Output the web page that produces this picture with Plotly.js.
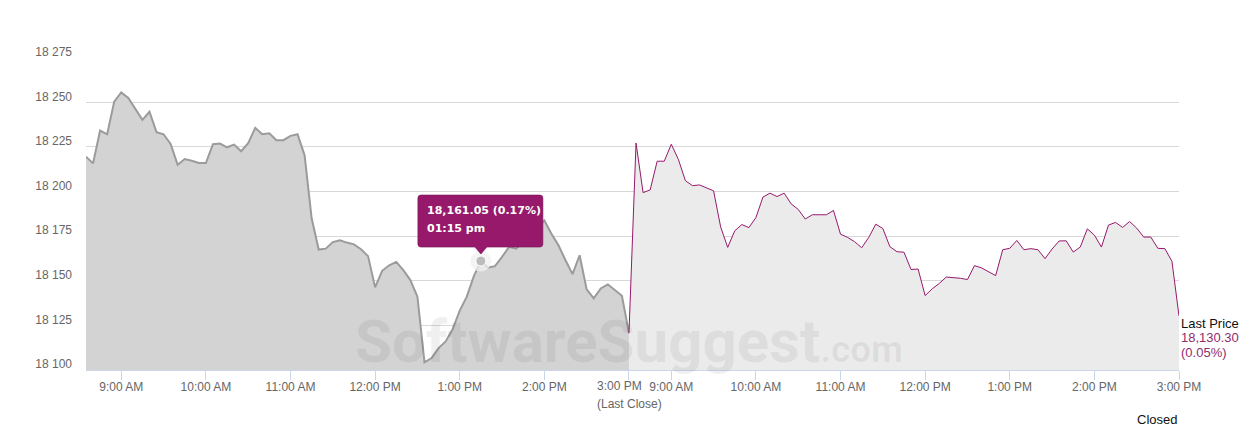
<!DOCTYPE html>
<html>
<head>
<meta charset="utf-8">
<script src="https://cdn.plot.ly/plotly-3.0.1.min.js"></script>
<style>
  html, body { margin: 0; padding: 0; background: #fff; }
  #chart { width: 1253px; height: 429px; }
</style>
</head>
<body>
<div id="chart"></div>
<script>
// ---- Data ----
// Previous session (grey), 5-minute points from 08:35 to 15:00
const leftValues = [
  18219.5, 18215.8, 18234.2, 18232.1, 18250.4, 18255.5, 18252.4, 18246.2, 18240.2, 18244.7,
  18233.3, 18232.1, 18226.7, 18215.0, 18218.2, 18217.3, 18216.0, 18216.0, 18226.5, 18226.9,
  18224.8, 18226.3, 18222.6, 18227.1, 18235.7, 18232.1, 18232.7, 18228.8, 18228.8, 18231.2,
  18232.1, 18220.3, 18185.0, 18167.5, 18168.0, 18171.7, 18172.7, 18171.4, 18170.4, 18167.7,
  18163.8, 18146.3, 18155.6, 18158.7, 18160.6, 18156.0, 18150.4, 18141.1, 18104.3, 18106.7,
  18112.3, 18116.0, 18122.9, 18133.3, 18141.1, 18152.6, 18161.05, 18157.4, 18158.2, 18163.4,
  18169.0, 18168.0, 18172.0, 18176.0, 18180.0, 18183.8, 18176.4, 18169.9, 18161.5, 18153.7,
  18164.3, 18145.2, 18140.1, 18145.7, 18148.0, 18144.8, 18141.6, 18120.6
];
// Current session (purple), 5-minute points from 08:30 to 15:00
const rightValues = [
  18120.6, 18227.2, 18199.4, 18200.9, 18217.0, 18217.0, 18226.5, 18218.1, 18206.1, 18203.3,
  18203.7, 18202.0, 18200.4, 18180.2, 18168.7, 18178.0, 18181.5, 18179.8, 18185.4, 18196.9,
  18199.1, 18197.2, 18199.1, 18193.1, 18190.0, 18184.6, 18187.0, 18187.0, 18187.0, 18189.4,
  18176.1, 18174.3, 18171.9, 18168.5, 18174.3, 18181.7, 18179.3, 18169.1, 18166.3, 18166.0,
  18156.3, 18156.6, 18141.7, 18145.5, 18148.5, 18152.1, 18151.8, 18151.4, 18150.7, 18158.5,
  18157.2, 18155.1, 18152.9, 18167.4, 18168.2, 18172.6, 18167.4, 18168.0, 18167.4, 18162.4,
  18167.8, 18172.3, 18172.4, 18166.1, 18168.9, 18179.1, 18175.6, 18168.9, 18181.2, 18182.7,
  18179.9, 18183.2, 18179.5, 18174.5, 18174.5, 18168.2, 18168.0, 18160.9, 18130.3
];
const leftStartMin = 8 * 60 + 35;   // 08:35
const rightStartMin = 8 * 60 + 30;  // 08:30
const sessionEndMin = 15 * 60;      // 15:00
const stepMin = 5;

const tickHours = [9, 10, 11, 12, 13, 14, 15];
const tickLabels = ["9:00 AM", "10:00 AM", "11:00 AM", "12:00 PM", "1:00 PM", "2:00 PM", "3:00 PM"];

const yTicks = [18100, 18125, 18150, 18175, 18200, 18225, 18250, 18275];

const tooltipIndex = 56;
const tooltipLines = ["18,161.05 (0.17%)", "01:15 pm"];
const lastPriceLines = ["Last Price", "18,130.30", "(0.05%)"];
const lastCloseLabel = "(Last Close)";
const statusLabel = "Closed";

// ---- Build axis positions ----
const leftSpan = sessionEndMin - leftStartMin;
const leftX = leftValues.map((_, i) => i * stepMin);
const rightX = rightValues.map((_, j) => leftSpan + j * stepMin);
const leftTickX = tickHours.map(h => h * 60 - leftStartMin);
const rightTickX = tickHours.map(h => leftSpan + h * 60 - rightStartMin);

const tickvals = leftTickX.slice(0, -1).concat([leftSpan]).concat(rightTickX);
const ticktext = tickLabels.slice(0, -1).concat([""]).concat(tickLabels);

const PURPLE = "#96196c";
const xMax = rightX[rightX.length - 1];

const traces = [
  {
    x: leftX, y: leftValues, type: "scatter", mode: "lines",
    line: { color: "#9b9b9b", width: 2 },
    fill: "tozeroy", fillcolor: "#d3d3d3", hoverinfo: "skip"
  },
  {
    x: rightX, y: rightValues, type: "scatter", mode: "lines",
    line: { color: PURPLE, width: 1 },
    fill: "tozeroy", fillcolor: "#ebebeb", hoverinfo: "skip"
  },
  {
    x: [leftX[tooltipIndex]], y: [leftValues[tooltipIndex]], type: "scatter", mode: "markers",
    marker: { size: 21, color: "rgba(240,240,240,0.75)" }, hoverinfo: "skip"
  },
  {
    x: [leftX[tooltipIndex]], y: [leftValues[tooltipIndex]], type: "scatter", mode: "markers",
    marker: { size: 10, color: "#bcbcbc", line: { color: "#ffffff", width: 1 } }, hoverinfo: "skip"
  }
];

const tx = leftX[tooltipIndex], ty = leftValues[tooltipIndex];
const lx = rightX[rightX.length - 1], ly = rightValues[rightValues.length - 1];

const annotations = [
  // watermark
  {
    xref: "paper", yref: "paper", x: 0.497, y: 0, yshift: 29, xanchor: "center", yanchor: "middle",
    showarrow: false,
    text: "SoftwareSuggest<span style=\"font-size:37px\">.com</span>",
    font: { family: "Roboto", size: 60, color: "rgba(0,0,0,0.06)", weight: 700 }
  },
  // tooltip text
  {
    x: tx, y: ty, xanchor: "left", yanchor: "middle", xshift: -56, yshift: 51, showarrow: false,
    text: "<b>" + tooltipLines[0] + "</b>",
    font: { family: "DejaVu Sans", size: 11, color: "#ffffff" }
  },
  {
    x: tx, y: ty, xanchor: "left", yanchor: "middle", xshift: -56, yshift: 33, showarrow: false,
    text: "<b>" + tooltipLines[1] + "</b>",
    font: { family: "DejaVu Sans", size: 11, color: "#ffffff" }
  },
  // last price labels
  {
    x: lx, y: ly, xanchor: "left", yanchor: "middle", xshift: 0, yshift: -8, showarrow: false,
    text: lastPriceLines[0], font: { family: "Liberation Sans", size: 13, color: "#111111" }
  },
  {
    x: lx, y: ly, xanchor: "left", yanchor: "middle", xshift: 0, yshift: -22, showarrow: false,
    text: lastPriceLines[1], font: { family: "Liberation Sans", size: 13, color: "#8f2c70" }
  },
  {
    x: lx, y: ly, xanchor: "left", yanchor: "middle", xshift: 0, yshift: -37, showarrow: false,
    text: lastPriceLines[2], font: { family: "Liberation Sans", size: 13, color: "#8f2c70" }
  },
  // 3:00 PM (Last Close)
  {
    x: leftSpan, xref: "x", yref: "paper", y: 0, xanchor: "center", yanchor: "middle",
    xshift: -9, yshift: -16, showarrow: false,
    text: tickLabels[tickLabels.length - 1], font: { family: "Liberation Sans", size: 12, color: "#666666" }
  },
  {
    x: leftSpan, xref: "x", yref: "paper", y: 0, xanchor: "center", yanchor: "middle",
    xshift: 1, yshift: -34, showarrow: false,
    text: lastCloseLabel, font: { family: "Liberation Sans", size: 12, color: "#666666" }
  },
  // Closed
  {
    x: xMax, xref: "x", yref: "paper", y: 0, xanchor: "right", yanchor: "middle",
    xshift: 0, yshift: -49, showarrow: false,
    text: statusLabel, font: { family: "Liberation Sans", size: 13, color: "#111111" }
  }
];

const shapes = [
  {
    type: "path", xref: "x", yref: "y", xsizemode: "pixel", ysizemode: "pixel",
    xanchor: tx, yanchor: ty,
    path: "M -60,66 L 59,66 Q 62,66 62,63 L 62,17 Q 62,14 59,14 L 6,14 L 0,7 L -6,14 L -60,14 Q -63,14 -63,17 L -63,63 Q -63,66 -60,66 Z",
    fillcolor: PURPLE, line: { color: "rgba(120,20,85,0.6)", width: 1 }, layer: "above"
  }
];

const layout = {
  width: 1253, height: 429,
  margin: { l: 86, r: 74, t: 57, b: 59, pad: 0 },
  paper_bgcolor: "#ffffff", plot_bgcolor: "#ffffff",
  showlegend: false,
  hovermode: false,
  separators: ". ",
  font: { family: "Liberation Sans", size: 12, color: "#666666" },
  xaxis: {
    range: [0, xMax],
    showgrid: false, zeroline: false,
    showline: true, linecolor: "#ccd6eb", linewidth: 1,
    ticks: "outside", ticklen: 9, tickcolor: "#ccd6eb", tickwidth: 1,
    tickmode: "array", tickvals: tickvals, ticktext: ticktext,
    ticklabelstandoff: -3,
    tickfont: { family: "Liberation Sans", size: 12, color: "#666666" },
    fixedrange: true
  },
  yaxis: {
    range: [18100, 18275.4],
    showgrid: true, gridcolor: "#d8d8d8", gridwidth: 1,
    zeroline: false, showline: false, ticks: "",
    tickmode: "array", tickvals: yTicks,
    tickformat: ",d",
    ticklabelstandoff: 13, ticklabelshift: -6,
    tickfont: { family: "Liberation Sans", size: 12, color: "#666666" },
    fixedrange: true
  },
  annotations: annotations,
  shapes: shapes
};

Plotly.newPlot("chart", traces, layout, { displayModeBar: false, staticPlot: true });
</script>
</body>
</html>
